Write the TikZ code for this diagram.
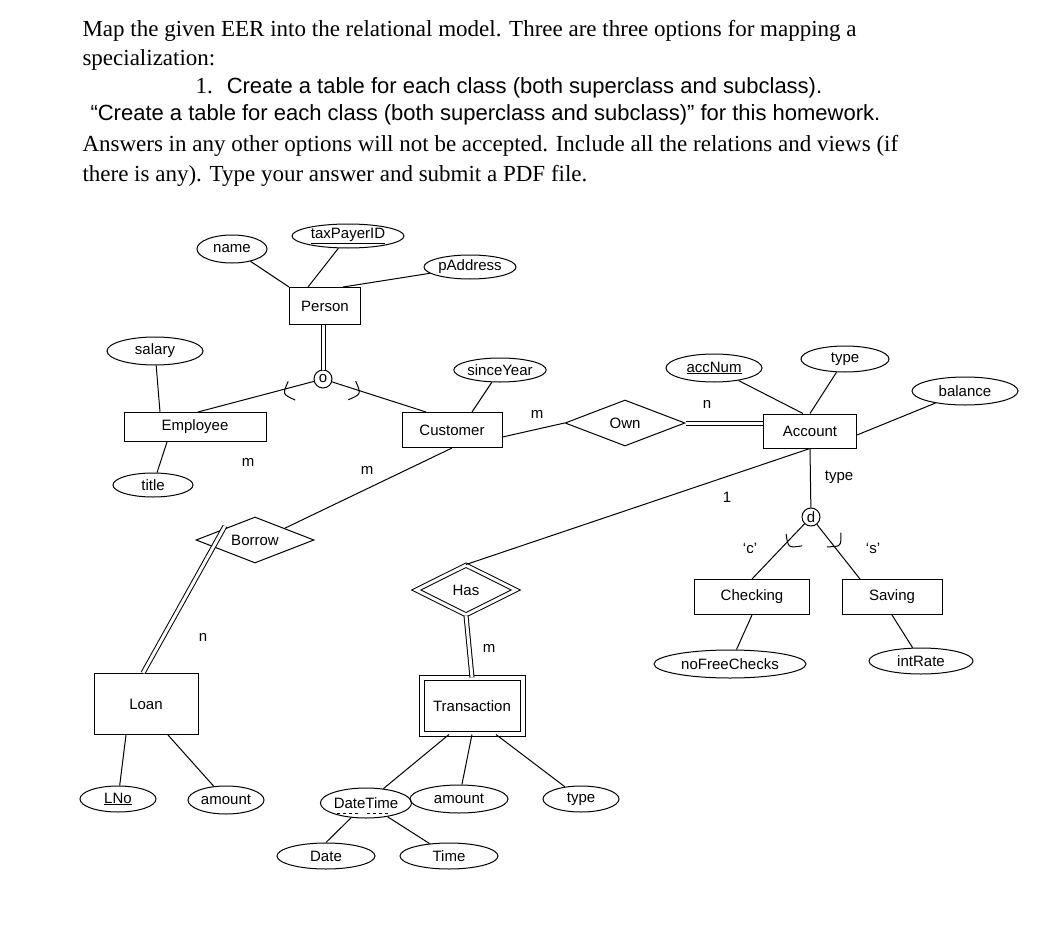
\documentclass[tikz,border=0pt]{standalone}
\usepackage{fontspec}
\setmainfont{Liberation Serif}
\newfontfamily\arial{Liberation Sans}
\usetikzlibrary{shapes.geometric,calc}
\tikzset{
 ent/.style={draw,rectangle,inner sep=0pt,font=\arial\fontsize{15}{15}\selectfont},
 att/.style={draw,ellipse,inner sep=0pt,font=\arial\fontsize{15}{15}\selectfont},
 rel/.style={draw,diamond,inner sep=0pt,aspect=2.5,font=\arial\fontsize{15}{15}\selectfont},
 lbl/.style={font=\arial\fontsize{15}{15}\selectfont},
 dbl/.style={double,double distance=3pt},
 hdr/.style={anchor=base west,inner sep=0pt,font=\fontsize{23}{23}\selectfont},
 hdrs/.style={anchor=base west,inner sep=0pt,font=\arial\fontsize{22}{22}\selectfont},
 circ/.style={draw,circle,inner sep=0pt,minimum size=18pt,font=\arial\fontsize{15}{15}\selectfont}
}
\newcommand\subarc[3]{%
 \path (#1) -- (#2) coordinate[pos=#3] (sa);
 \coordinate (sb) at ($(sa)!4pt!(#1)$);
 \draw ($(sb)!10pt!90:(#1)$) .. controls ($(sa)!-6pt!(#1)$) .. ($(sb)!10pt!-90:(#1)$);}
\begin{document}
\begin{tikzpicture}[x=1pt,y=-1pt,line width=1pt]
\useasboundingbox (0,0) rectangle (1047,950);
% header
\node[hdr] (h1) at (82,37) {Map the given EER into the relational model. Three are three options for mapping a};
\node[hdr] (h2) at (82,66) {specialization:};
\node[hdr] (h3) at (195,93) {1.\hspace{14pt}{\arial\fontsize{22}{22}\selectfont Create a table for each class (both superclass and subclass).}};
\node[hdrs] (h4) at (90,121) {“Create a table for each class (both superclass and subclass)” for this homework.};
\node[hdr] (h5) at (82,151) {Answers in any other options will not be accepted. Include all the relations and views (if};
\node[hdr] (h6) at (82,181) {there is any). Type your answer and submit a PDF file.};
% entities
\node[ent,minimum width=71pt,minimum height=37pt] (person) at (325,306) {Person};
\node[ent,minimum width=142pt,minimum height=29pt] (emp) at (195,427) {Employee};
\node[ent,minimum width=100pt,minimum height=35pt] (cust) at (452,430) {Customer};
\node[ent,minimum width=93pt,minimum height=34pt] (acc) at (810,431) {Account};
\node[ent,minimum width=115pt,minimum height=35pt] (chk) at (752,597) {Checking};
\node[ent,minimum width=100pt,minimum height=35pt] (sav) at (892,597) {Saving};
\node[ent,minimum width=104pt,minimum height=61pt] (loan) at (146,704) {Loan};
\node[ent,double,double distance=4pt,minimum width=101pt,minimum height=56pt] (trans) at (472,706) {Transaction};
% attributes
\node[att,minimum width=70pt,minimum height=28pt] (name) at (232,249) {name};
\node[att,minimum width=112pt,minimum height=24pt] (tax) at (348,236) {\underline{taxPayerID}};
\node[att,minimum width=92pt,minimum height=24pt] (padd) at (470,267) {pAddress};
\node[att,minimum width=96pt,minimum height=28pt] (sal) at (155,351) {salary};
\node[att,minimum width=92pt,minimum height=24pt] (since) at (500,370) {sinceYear};
\node[att,minimum width=96pt,minimum height=28pt] (accn) at (714,368) {\underline{accNum}};
\node[att,minimum width=88pt,minimum height=26pt] (atype) at (845,359) {type};
\node[att,minimum width=106pt,minimum height=28pt] (bal) at (965,391) {balance};
\node[att,minimum width=80pt,minimum height=24pt] (title) at (153,485) {title};
\node[att,minimum width=152pt,minimum height=28pt] (nfc) at (730,664) {noFreeChecks};
\node[att,minimum width=104pt,minimum height=26pt] (ir) at (921,661) {intRate};
\node[att,minimum width=76pt,minimum height=26pt] (lno) at (118,799) {\underline{LNo}};
\node[att,minimum width=76pt,minimum height=28pt] (lamt) at (226,800) {amount};
\node[att,minimum width=76pt,minimum height=30pt] (dt) at (366,803) {DateTime};
\node[att,minimum width=98pt,minimum height=28pt] (tamt) at (459,799) {amount};
\node[att,minimum width=76pt,minimum height=26pt] (ttype) at (581,799) {type};
\node[att,minimum width=98pt,minimum height=26pt] (date) at (326,856) {Date};
\node[att,minimum width=98pt,minimum height=26pt] (time) at (449,856) {Time};
\draw[dashed,line width=0.8pt] (337,813) -- (358,813) (367,813) -- (389,813);
% relationships
\node[rel,minimum width=120pt,minimum height=46pt] (own) at (625,423) {Own};
\node[rel,minimum width=118pt,minimum height=46pt] (borrow) at (255,540) {Borrow};
\node[rel,dbl,minimum width=100pt,minimum height=50pt] (has) at (466,590) {Has};
% circles
\node[circ] (o) at (323,379) {o};
\node[circ] (d) at (811,517) {d};
% connectors
\draw (name) -- (person.north west);
\draw (tax) -- ([xshift=-17pt]person.north);
\draw (padd) -- ([xshift=18pt]person.north);
\draw[dbl] (person.south -| o) -- (o);
\draw (o) -- ([xshift=3pt]emp.north);
\draw (o) -- ([xshift=-26pt]cust.north);
\subarc{o}{emp}{0.33}
\subarc{o}{cust}{0.32}
\draw (sal) -- ([xshift=-35pt]emp.north);
\draw (since) -- ([xshift=20pt]cust.north);
\draw ([yshift=-7pt]cust.east) -- (own.west);
\draw[dbl] (own.east) -- (own.east -| acc.west);
\draw (accn) -- ([xshift=-7pt]acc.north);
\draw (atype) -- (acc.north);
\draw (bal) -- ([yshift=-4pt]acc.east);
\draw (title) -- ([xshift=-28pt]emp.south);
\draw (cust.south) -- (borrow.north east);
\draw[dbl] ([xshift=-30pt,yshift=14pt]borrow.center) -- ([xshift=-3pt]loan.north);
\draw (acc.south) -- (has.north);
\draw (acc.south) -- (d);
\draw (d) -- (chk.north);
\draw (d) -- ([xshift=-32pt]sav.north);
\subarc{d}{chk}{0.34}
\subarc{d}{sav}{0.34}
\draw (chk.south) -- (nfc);
\draw (sav.south) -- (ir);
\draw[dbl] (has.south) -- (trans.north);
\draw ([xshift=-20pt]loan.south) -- (lno);
\draw ([xshift=22pt]loan.south) -- (lamt);
\draw ([xshift=-23pt]trans.south) -- (dt);
\draw (trans.south) -- (tamt);
\draw ([xshift=24pt]trans.south) -- (ttype);
\draw (dt) -- (date.north);
\draw (dt) -- (time);
% labels
\node[lbl] (l1) at (537,414) {m};
\node[lbl] (l2) at (707,404) {n};
\node[lbl] (l3) at (248,462) {m};
\node[lbl] (l4) at (367,470) {m};
\node[lbl] (l5) at (203,637) {n};
\node[lbl] (l6) at (727,497) {1};
\node[lbl] (l7) at (839,477) {type};
\node[lbl] (l8) at (750,548) {‘c’};
\node[lbl] (l9) at (873,548) {‘s’};
\node[lbl] (l10) at (489,648) {m};
\end{tikzpicture}
\end{document}
